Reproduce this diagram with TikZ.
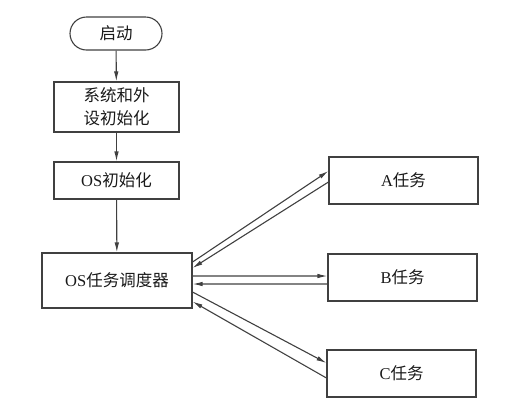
\documentclass[tikz,border=0pt]{standalone}
\usepackage{fontspec}
\setmainfont{Liberation Serif}
\newfontfamily\cjk{Noto Sans CJK SC}
\usetikzlibrary{arrows.meta,shapes.misc}
\begin{document}
\begin{tikzpicture}[x=1bp,y=-1bp,
  every node/.style={font=\fontsize{16.5bp}{23bp}\selectfont, text=black!90},
  box/.style={draw=black!75, line width=1.1bp, rectangle, inner sep=0pt, align=center},
  term/.style={draw=black!75, line width=1.1bp, rounded rectangle, inner sep=0pt},
  arr/.style={draw=black!75, line width=1.1bp, -{Latex[length=10bp,width=4.5bp]}}]
\useasboundingbox (0,0) rectangle (515,417);
\node[term, minimum width=92bp, minimum height=33bp] (start) at (116,33.5) {\cjk 启动};
\node[box, minimum width=125bp, minimum height=50bp] (init) at (116.5,107) {\cjk 系统和外\\\cjk 设初始化};
\node[box, minimum width=125bp, minimum height=37bp] (osinit) at (116.5,180.5) {OS\cjk 初始化};
\node[box, minimum width=150bp, minimum height=55bp] (sched) at (117,280.5) {OS\cjk 任务调度器};
\node[box, minimum width=149bp, minimum height=47bp] (ta) at (403.5,180.5) {A\cjk 任务};
\node[box, minimum width=149bp, minimum height=47bp] (tb) at (402.5,277.5) {B\cjk 任务};
\node[box, minimum width=149bp, minimum height=47bp] (tc) at (401.5,373.5) {C\cjk 任务};
\draw[arr] (start) -- (init);
\draw[arr] (init) -- (osinit);
\draw[arr] (osinit) -- (sched);
\draw[arr] ([yshift=18.5bp]sched.east) -- ([yshift=9.5bp]ta.west);
\draw[arr] ([yshift=-1.5bp]ta.west) -- ([yshift=12.5bp]sched.east);
\draw[arr] ([yshift=4.5bp]sched.east) -- ([yshift=1.5bp]tb.west);
\draw[arr] ([yshift=-6.5bp]tb.west) -- ([yshift=-3.5bp]sched.east);
\draw[arr] ([yshift=-11.5bp]sched.east) -- ([yshift=10.5bp]tc.west);
\draw[arr] ([yshift=-4.5bp]tc.west) -- ([yshift=-21bp]sched.east);
\end{tikzpicture}
\end{document}
